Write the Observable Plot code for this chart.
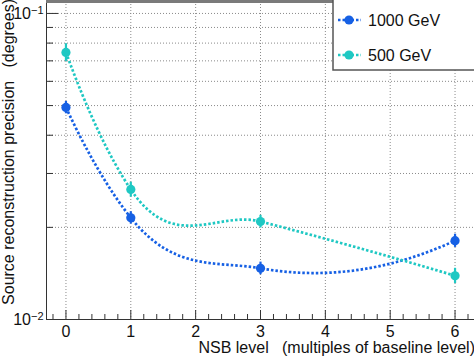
<!DOCTYPE html>
<html><head><meta charset="utf-8">
<script src="https://cdn.jsdelivr.net/npm/d3@7"></script>
<script src="https://cdn.jsdelivr.net/npm/@observablehq/plot@0.6"></script>
<style>
body{margin:0;background:#fff;overflow:hidden}
svg{font-family:"Liberation Sans",Arial,Helvetica,sans-serif}
</style>
</head><body><div id="chart"></div>
<script>
// ---- data ----
const nsbLevels = [0, 1, 3, 6];
const seriesNames = ["1000 GeV", "500 GeV"];
const precision1000 = [0.0493, 0.0215, 0.0147, 0.0181];
const error1000 = [0.0023, 0.0010, 0.0007, 0.0009];
const precision500 = [0.0746, 0.0266, 0.0209, 0.0139];
const error500 = [0.0050, 0.0015, 0.0010, 0.0008];
const seriesColors = ["#1660e4", "#1fc8c3"];
const xTicks = [0, 1, 2, 3, 4, 5, 6];
const xTickLabels = ["0", "1", "2", "3", "4", "5", "6"];
const xMinorTicks = [-0.2, 0.2, 0.4, 0.6, 0.8, 1.2, 1.4, 1.6, 1.8, 2.2, 2.4, 2.6, 2.8, 3.2, 3.4, 3.6, 3.8, 4.2, 4.4, 4.6, 4.8, 5.2, 5.4, 5.6, 5.8, 6.2];
const yMajorTicks = [0.01, 0.1];
const yTickExponents = ["\u22122", "\u22121"];
const yMinorTicks = [0.02, 0.03, 0.04, 0.05, 0.06, 0.07, 0.08, 0.09];
const yGrid = [0.02, 0.03, 0.04, 0.05, 0.06, 0.07, 0.08, 0.09, 0.1];
const xTitle = "NSB level   (multiples of baseline level)";
const yTitle = "Source reconstruction precision   (degrees)";

const rows = [];
nsbLevels.forEach((x, i) => {
  rows.push({series: seriesNames[0], x, y: precision1000[i], e: error1000[i]});
  rows.push({series: seriesNames[1], x, y: precision500[i], e: error500[i]});
});

// smooth curve through the points (three-point parabolic tangents, like ROOT's "C" option)
function smoothCurve(context) {
  return {
    lineStart() { this._x = []; this._y = []; },
    point(x, y) { this._x.push(+x); this._y.push(+y); },
    lineEnd() {
      const X = this._x, Y = this._y, n = X.length;
      if (!n) return;
      context.moveTo(X[0], Y[0]);
      if (n === 2) { context.lineTo(X[1], Y[1]); return; }
      const h = [], d = [];
      for (let i = 0; i < n - 1; i++) { h[i] = X[i + 1] - X[i]; d[i] = (Y[i + 1] - Y[i]) / h[i]; }
      const m = new Array(n);
      for (let i = 1; i < n - 1; i++) m[i] = (h[i] * d[i - 1] + h[i - 1] * d[i]) / (h[i - 1] + h[i]);
      m[0] = ((2 * h[0] + h[1]) * d[0] - h[0] * d[1]) / (h[0] + h[1]);
      const k = n - 1;
      m[k] = ((2 * h[k - 1] + h[k - 2]) * d[k - 1] - h[k - 1] * d[k - 2]) / (h[k - 2] + h[k - 1]);
      for (let i = 0; i < n - 1; i++) {
        context.bezierCurveTo(X[i] + h[i] / 3, Y[i] + m[i] * h[i] / 3,
                              X[i + 1] - h[i] / 3, Y[i + 1] - m[i + 1] * h[i] / 3,
                              X[i + 1], Y[i + 1]);
      }
    },
    areaStart() {}, areaEnd() {}
  };
}

const W = 474, H = 357, mL = 46, mR = 0, mT = 1, mB = 38;
const frameW = W - mL - mR, frameH = H - mT - mB;
const grid = {stroke: "#8a8a8a", strokeWidth: 1, strokeDasharray: "1,2"};
const dotted = "2.5 2";

const plot = Plot.plot({
  width: W, height: H,
  marginLeft: mL, marginRight: mR, marginTop: mT, marginBottom: mB,
  style: {fontFamily: '"Liberation Sans", Arial, sans-serif', fontSize: "16px", background: "white", overflow: "visible"},
  x: {domain: [-0.3, 6.3]},
  y: {type: "log", domain: [0.01, 0.1094]},
  color: {domain: seriesNames, range: seriesColors},
  marks: [
    Plot.ruleX(xTicks, grid),
    Plot.ruleY(yGrid, grid),
    // inward tick marks
    Plot.ruleX(xMinorTicks, {stroke: "#333", insetTop: frameH - 5}),
    Plot.ruleX(xTicks, {stroke: "#333", insetTop: frameH - 9}),
    Plot.ruleY(yMinorTicks, {stroke: "#333", insetRight: frameW - 7}),
    Plot.ruleY(yMajorTicks, {stroke: "#333", insetRight: frameW - 12}),
    // axis lines
    Plot.ruleY([0.01], {stroke: "#333"}),
    Plot.ruleX([-0.3], {stroke: "#333"}),
    Plot.ruleY([0.1094], {stroke: "#7a7a7a", strokeWidth: 3}),
    Plot.axisX({ticks: xTicks, tickSize: 0, tickPadding: 6, tickFormat: (d, i) => xTickLabels[i], label: null, fill: "#111"}),
    Plot.axisY({ticks: yMajorTicks, tickSize: 0, tickPadding: 3, tickFormat: () => "10", label: null, fill: "#111"}),
    // curves, error bars, points
    Plot.line(rows, {x: "x", y: "y", z: "series", stroke: "series", curve: smoothCurve,
      strokeWidth: 2.7, strokeDasharray: dotted, strokeLinecap: "butt", strokeLinejoin: "miter"}),
    Plot.ruleX(rows, {x: "x", y1: d => d.y - d.e, y2: d => d.y + d.e, stroke: "series", strokeWidth: 2.2}),
    Plot.dot(rows, {x: "x", y: "y", fill: "series", r: 4.6})
  ]
});

document.getElementById("chart").appendChild(plot);
const svg = d3.select(plot);

// superscript exponents on y tick labels
svg.selectAll("g[aria-label='y-axis tick label'] text").each(function(d, i) {
  d3.select(this).append("tspan").attr("dy", "-0.45em").attr("font-size", "11px").text(yTickExponents[i]);
});

// axis titles
svg.append("text").attr("x", W + 1).attr("y", 353).attr("text-anchor", "end")
  .attr("font-size", 16).attr("fill", "#111").style("white-space", "pre").text(xTitle);
svg.append("text").attr("transform", `translate(13.5,-1) rotate(-90)`).attr("text-anchor", "end")
  .attr("font-size", 16).attr("fill", "#111").style("white-space", "pre").text(yTitle);

// legend
const lg = svg.append("g").attr("text-anchor", "start");
lg.append("rect").attr("x", 333).attr("y", -4).attr("width", 150).attr("height", 74)
  .attr("fill", "white").attr("stroke", "#555").attr("stroke-width", 1.5);
seriesNames.forEach((name, i) => {
  const cy = 20 + i * 35;
  lg.append("line").attr("x1", 338).attr("x2", 361).attr("y1", cy).attr("y2", cy)
    .attr("stroke", seriesColors[i]).attr("stroke-width", 2.7).attr("stroke-dasharray", dotted);
  lg.append("circle").attr("cx", 349).attr("cy", cy).attr("r", 4.6).attr("fill", seriesColors[i]);
  lg.append("text").attr("x", 368).attr("y", cy).attr("dy", "0.36em").attr("font-size", 16)
    .attr("text-anchor", "start").attr("fill", "#111").text(name);
});
</script>
</body></html>
